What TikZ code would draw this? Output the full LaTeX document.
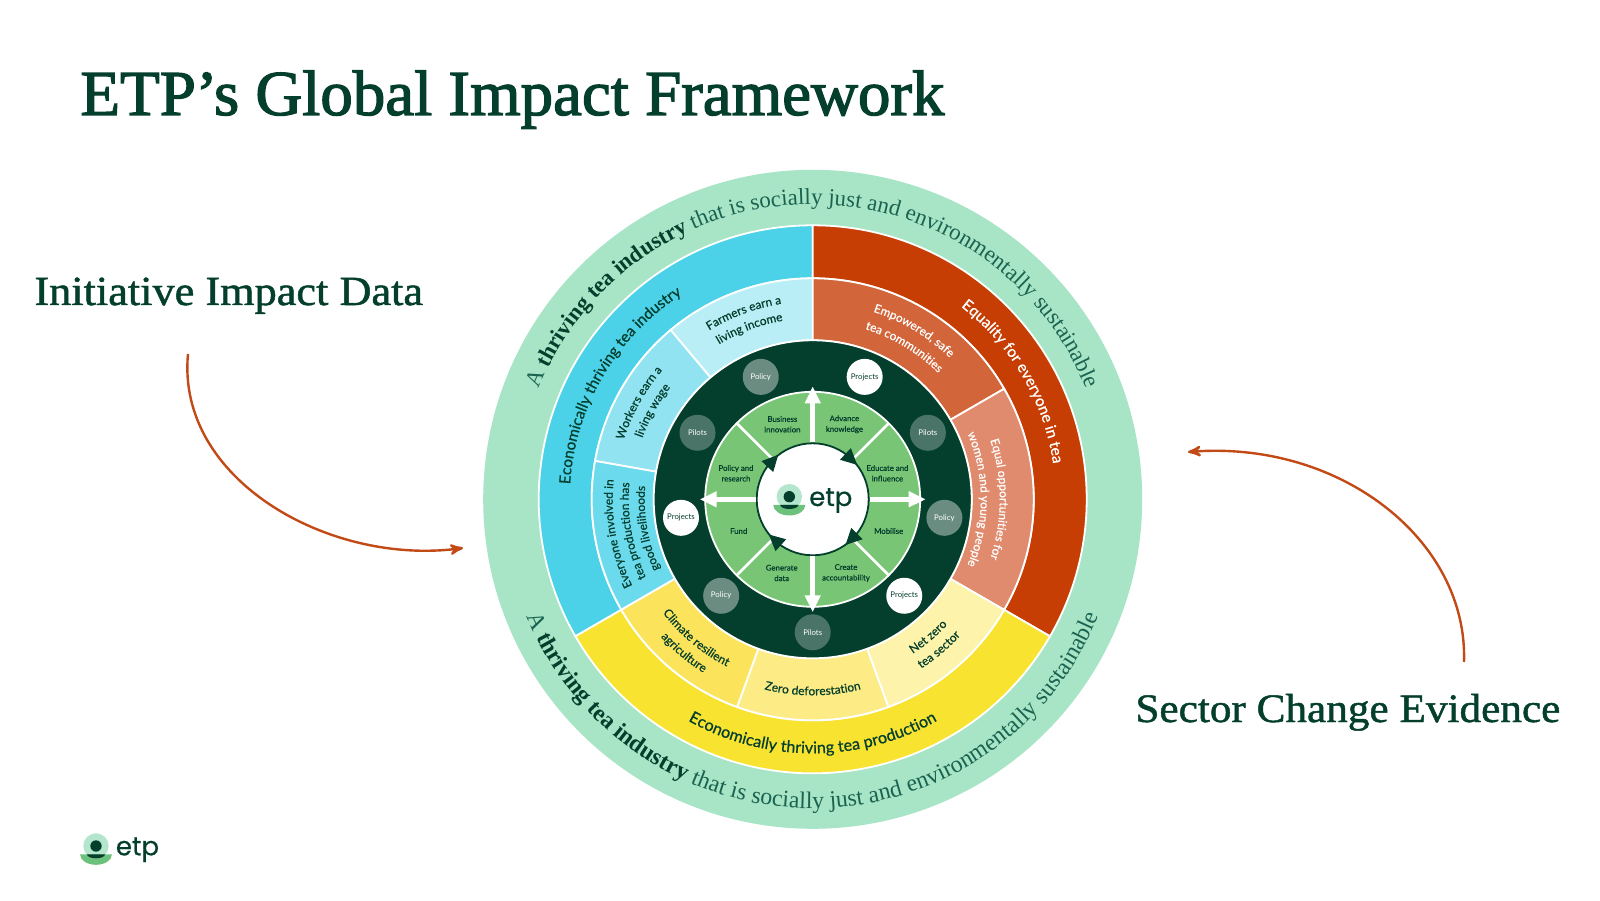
\documentclass[tikz,border=0pt]{standalone}
\usepackage{fontspec}
\setmainfont{Liberation Serif}
\newfontfamily\lab{Lato}
\newfontfamily\labheavy[FakeBold=.6]{Lato}
\newfontfamily\logofont[FakeBold=.5]{Poppins}
\newfontfamily\titlefont[FakeStretch=1.015,FakeBold=2]{Liberation Serif}
\newfontfamily\capfont[FakeStretch=1.07,FakeBold=1.2]{Liberation Serif}
\usetikzlibrary{arrows,arrows.meta,decorations.text,positioning}

\definecolor{dark}{HTML}{043E2C}
\definecolor{midteal}{HTML}{1A6350}
\definecolor{mint}{HTML}{A8E4C6}
\definecolor{wheelgreen}{HTML}{78C675}
\definecolor{logomint}{HTML}{B4E6CE}
\definecolor{logogreen}{HTML}{6CC27C}
\definecolor{polgrey}{HTML}{6B8C80}
\definecolor{pilgrey}{HTML}{4A7468}
\definecolor{curve}{HTML}{C24A16}
\definecolor{blueA}{HTML}{4BD2E9}
\definecolor{blueB}{HTML}{B9EEF6}
\definecolor{blueC}{HTML}{92E3F1}
\definecolor{blueD}{HTML}{6CDAED}
\definecolor{redA}{HTML}{C63E04}
\definecolor{redB}{HTML}{D2653A}
\definecolor{redC}{HTML}{E08B6D}
\definecolor{yelA}{HTML}{F9E331}
\definecolor{yelB}{HTML}{FBE45C}
\definecolor{yelC}{HTML}{FDEB86}
\definecolor{yelD}{HTML}{FDF3AA}

\def\ringfont{\labheavy\fontsize{7.7}{8}\selectfont}
\def\yelfont{\labheavy\fontsize{8.1}{8}\selectfont}
\def\midfont{\labheavy\fontsize{5.95}{7}\selectfont}
\def\topreg{\fontsize{11.45}{13}\selectfont}
\def\topbold{\fontsize{11.3}{13}\selectfont\bfseries\color{dark}}
\def\botreg{\fontsize{11.9}{13}\selectfont}
\def\botbold{\fontsize{11.9}{13}\selectfont\bfseries\color{dark}}

\newcommand{\ringpart}[5]{\fill[#5,draw=white,line width=.9pt] (#3:#1) arc[start angle=#3,end angle=#4,radius=#1] -- (#4:#2) arc[start angle=#4,end angle=#3,radius=#2] -- cycle;}
\newcommand{\overtext}[4]{\path[decorate,decoration={text along path,text align=center,text color=#3,text={#4}}] (#2+85:#1) arc[start angle=#2+85,end angle=#2-85,radius=#1];}
\newcommand{\undertext}[4]{\path[decorate,decoration={text along path,text align=center,text color=#3,text={#4}}] (#2-85:#1) arc[start angle=#2-85,end angle=#2+85,radius=#1];}
\newcommand{\etplogo}[3]{
	\begin{scope}[shift={(#1,#2)}]
		\fill[logomint] (0,0) circle (12.7);
		\fill[logogreen] (-16,-8.3) arc[start angle=180,end angle=360,x radius=16,y radius=10.5] -- cycle;
		\fill[dark] (0,0) circle (5.7);
		\fill[dark] (-9,-8.3) arc[start angle=180,end angle=360,x radius=9,y radius=4] -- cycle;
		\node[anchor=base west,inner sep=0pt,text=dark,font=\logofont\fontsize{13}{13}\selectfont] (#3) at (19.5,-9.3) {etp};
	\end{scope}}

\begin{document}
\begin{tikzpicture}[x=.5pt,y=.5pt,>=stealth']
	\tikzstyle{caption}=[anchor=base west,inner sep=0pt,text=dark]
	\tikzstyle{wheeltext}=[align=center,inner sep=0pt,text=dark,font=\labheavy\fontsize{3.9}{5.3}\selectfont]
	\tikzstyle{badge}=[circle,inner sep=0pt,minimum size=18pt,font=\lab\fontsize{3.9}{5}\selectfont]
	\tikzstyle{policy}=[badge,fill=polgrey,text=white]
	\tikzstyle{pilots}=[badge,fill=pilgrey,text=white]
	\tikzstyle{projects}=[badge,fill=white,text=dark]
	\tikzstyle{spoke}=[white,line width=1.3pt]
	\tikzstyle{impact}=[->,curve,line width=1.2pt]

	\useasboundingbox (0,0) rectangle (1600,900);

	\node[caption,font=\titlefont\fontsize{32}{32}\selectfont] (title) at (80,785) {ETP’s Global Impact Framework};
	\node[caption,font=\capfont\fontsize{20.7}{20.7}\selectfont] (init) at (34,595) {Initiative Impact Data};
	\node[caption,font=\capfont\fontsize{20.2}{20.2}\selectfont] (sect) at (1135,178) {Sector Change Evidence};

	\begin{scope}[shift={(812.7,400.7)}]
		\fill[mint] (0,0) circle (329.5);

		\ringpart{274}{221}{90}{210}{blueA}
		\ringpart{274}{221}{90}{-30}{redA}
		\ringpart{274}{221}{-30}{-150}{yelA}
		\ringpart{221}{159}{90}{130}{blueB}
		\ringpart{221}{159}{130}{170}{blueC}
		\ringpart{221}{159}{170}{210}{blueD}
		\ringpart{221}{159}{90}{30}{redB}
		\ringpart{221}{159}{30}{-30}{redC}
		\ringpart{221}{159}{-30}{-70}{yelD}
		\ringpart{221}{159}{-70}{-110}{yelC}
		\ringpart{221}{159}{-110}{-150}{yelB}

		\fill[dark,draw=white,line width=.9pt] (0,0) circle (159);
		\fill[wheelgreen,draw=white,line width=.9pt] (0,0) circle (107.5);

		\node[circle,fill=white,draw=dark,line width=.9pt,inner sep=0pt,minimum size=56pt] (hub) at (0,0) {};

		\foreach \a in {45,135,225,315}
			\draw[spoke] (hub.\a) -- (\a:107);
		\foreach \a in {0,90,180,270} {
			\coordinate (tip\a) at (\a:113);
			\draw[spoke,line width=2.4pt,-{Triangle[length=8.5pt,width=7.5pt]}] (hub.\a) -- (tip\a);
		}
		\foreach \a in {137,47,-45,228}
			\fill[dark,shift={(\a:55.5)},rotate=\a-90] (9,0) -- (-7,8) -- (-7,-8) -- cycle;

		\node[wheeltext] (w1) at (-30.3,75) {Business\\innovation};
		\node[wheeltext] (w2) at (31.7,75) {Advance\\knowledge};
		\node[wheeltext] (w3) at (74.7,26) {Educate and\\influence};
		\node[wheeltext] (w4) at (76,-31.7) {Mobilise};
		\node[wheeltext] (w5) at (33.3,-73.7) {Create\\accountability};
		\node[wheeltext] (w6) at (-31,-73.7) {Generate\\data};
		\node[wheeltext] (w7) at (-74,-31.7) {Fund};
		\node[wheeltext] (w8) at (-76.7,26) {Policy and\\research};

		\foreach \a/\t/\s [count=\n] in {113/Policy/policy,67/Projects/projects,150/Pilots/pilots,30/Pilots/pilots,188/Projects/projects,-8/Policy/policy,226.5/Policy/policy,-46.5/Projects/projects,270/Pilots/pilots}
			\node[\s] (b\n) at (\a:133) {\t};

		\overtext{295}{90}{midteal}{|\topreg|A |\topbold|thriving tea industry |\topreg|that is socially just and environmentally sustainable}
		\undertext{309}{-90}{midteal}{|\botreg|A |\botbold|thriving tea industry |\botreg|that is socially just and environmentally sustainable}

		\overtext{243}{149.5}{dark}{|\ringfont|Economically thriving tea industry}
		\overtext{243}{30.4}{white}{|\ringfont|Equality for everyone in tea}
		\undertext{254}{-90}{dark}{|\yelfont|Economically thriving tea production}

		\overtext{198}{110.3}{dark}{|\midfont|Farmers earn a}
		\overtext{181}{110.3}{dark}{|\midfont|living income}
		\overtext{198}{151}{dark}{|\midfont|Workers earn a}
		\overtext{181}{151}{dark}{|\midfont|living wage}
		\overtext{200}{190}{dark}{|\midfont|Everyone involved in}
		\overtext{184}{190}{dark}{|\midfont|tea production has}
		\overtext{168}{190}{dark}{|\midfont|good livelihoods}
		\overtext{197}{59}{white}{|\midfont|Empowered, safe}
		\overtext{178}{59}{white}{|\midfont|tea communities}
		\overtext{187}{0}{white}{|\midfont|Equal opportunities for}
		\overtext{168}{0}{white}{|\midfont|women and young people}
		\undertext{188}{-130}{dark}{|\midfont|Climate resilient}
		\undertext{205}{-130}{dark}{|\midfont|agriculture}
		\undertext{196}{-90}{dark}{|\midfont|Zero deforestation}
		\undertext{184}{-50}{dark}{|\midfont|Net zero}
		\undertext{201}{-50}{dark}{|\midfont|tea sector}
	\end{scope}

	\etplogo{789.3}{403.3}{etpa}
	\etplogo{96}{54}{etpb}

	\coordinate (inita) at (188,546);
	\coordinate (initb) at (463,352);
	\coordinate (secta) at (1464,238);
	\coordinate (sectb) at (1188,448);
	\draw[impact] (inita) .. controls (176,420) and (330,334) .. (initb);
	\draw[impact] (secta) .. controls (1468,360) and (1340,460) .. (sectb);
\end{tikzpicture}
\end{document}
